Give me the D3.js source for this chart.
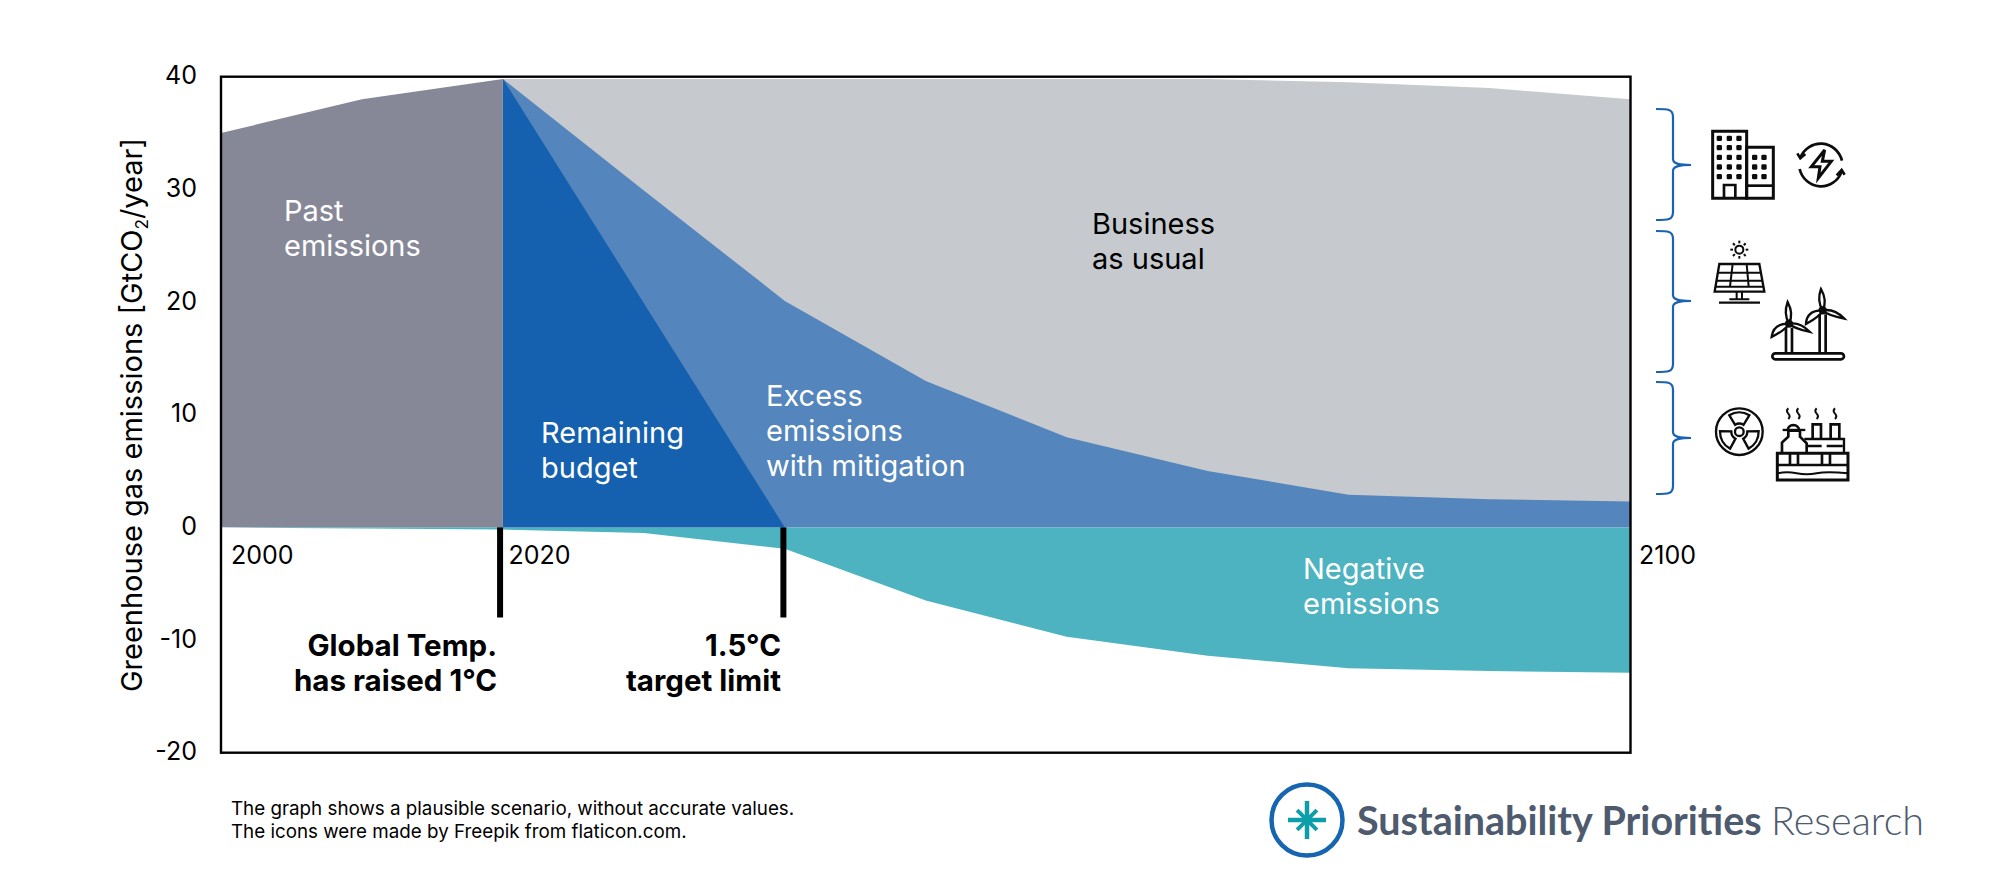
<!DOCTYPE html>
<html>
<head>
<meta charset="utf-8">
<script src="https://cdn.jsdelivr.net/npm/d3@7"></script>
<style>
    html, body { margin: 0; padding: 0; background: #fff; }
    svg { display: block; }
    text { font-family: Inter, sans-serif; }
</style>
</head>
<body>
<svg class="svg"></svg>
<script>
const yTicks = [40, 30, 20, 10, 0, -10, -20];
const xTicks = [2000, 2020, 2100];

const pastYears = [2000, 2010, 2020];
const pastValues = [35.0, 38.0, 39.8];

const budgetYears = [2020, 2030, 2040];
const budgetValues = [39.8, 19.9, 0];

const scenarioYears = [2020, 2030, 2040, 2050, 2060, 2070, 2080, 2090, 2100];
const businessValues = [39.8, 39.8, 39.8, 39.8, 39.8, 39.8, 39.5, 39.0, 38.0];
const excessValues = [39.8, 29.9, 20.1, 13.0, 8.0, 5.0, 2.9, 2.5, 2.3];

const negativeYears = [2000, 2010, 2020, 2030, 2040, 2050, 2060, 2070, 2080, 2090, 2100];
const negativeValues = [0, -0.1, -0.2, -0.5, -1.9, -6.5, -9.7, -11.4, -12.5, -12.75, -12.9];

const markerYears = [2019.8, 2039.9];

function drawChart () {
    const margin = {
        top: 76.7,
        right: 371.5,
        bottom: 141.3,
        left: 221
    };
    const width = 2002;
    const height = 894;

    const svg = d3.select('.svg')
        .attr('width', width)
        .attr('height', height)
        .attr('viewBox', `0 0 ${width} ${height}`);

    /* SCALES */
    const xScale = d3.scaleLinear()
        .domain([2000, 2100])
        .range([margin.left, width - margin.right]);
    const yScale = d3.scaleLinear()
        .domain([-20, 40])
        .range([height - margin.bottom, margin.top]);

    /* AREAS */
    function drawArea (years, values, fill) {
        const area = d3.area()
            .x((d, i) => xScale(years[i]))
            .y0(yScale(0))
            .y1(d => yScale(d));
        svg.append('path')
            .datum(values)
            .attr('d', area)
            .attr('fill', fill);
    }
    drawArea(negativeYears, negativeValues, '#4db3c0');
    drawArea(scenarioYears, businessValues, '#c6cacf');
    drawArea(scenarioYears, excessValues, '#5485bc');
    drawArea(budgetYears, budgetValues, '#1561af');
    drawArea(pastYears, pastValues, '#868898');

    /* FRAME */
    svg.append('rect')
        .attr('x', xScale(2000))
        .attr('y', yScale(40))
        .attr('width', xScale(2100) - xScale(2000))
        .attr('height', yScale(-20) - yScale(40))
        .attr('fill', 'none')
        .attr('stroke', '#000')
        .attr('stroke-width', 2.4);

    /* AXES */
    const yAxis = d3.axisLeft(yScale)
        .tickValues(yTicks)
        .tickSize(0)
        .tickPadding(24)
        .tickFormat(d => String(d));
    const yAxisG = svg.append('g')
        .attr('transform', `translate(${margin.left}, -1)`)
        .call(yAxis);
    yAxisG.select('.domain').remove();
    yAxisG.selectAll('text')
        .style('font-family', 'Inter, sans-serif')
        .style('font-size', '25px')
        .attr('fill', '#000');

    const xAxis = d3.axisBottom(xScale).tickValues(xTicks).tickSize(0).tickFormat(d3.format('d'));
    const xAxisG = svg.append('g')
        .attr('transform', `translate(0, ${yScale(0)})`)
        .call(xAxis);
    xAxisG.select('.domain').remove();
    xAxisG.selectAll('text')
        .style('font-family', 'Inter, sans-serif')
        .style('font-size', '25px')
        .attr('fill', '#000')
        .attr('text-anchor', 'start')
        .attr('y', 0)
        .attr('dy', 37)
        .attr('dx', d => d === 2000 ? 9.5 : (d === 2100 ? 8 : 5));

    /* 2020 AND 2040 MARKERS */
    svg.selectAll('.marker')
        .data(markerYears).enter()
        .append('line')
        .attr('class', 'marker')
        .attr('x1', d => xScale(d))
        .attr('x2', d => xScale(d))
        .attr('y1', yScale(0))
        .attr('y2', yScale(-8))
        .attr('stroke', '#000')
        .attr('stroke-width', 6);

    /* TEXT */
    function label (lines, x, y, fill, weight, anchor) {
        const t = svg.append('text')
            .attr('fill', fill)
            .attr('text-anchor', anchor || 'start')
            .style('font-size', weight ? '29.5px' : '29px')
            .style('font-weight', weight || 400);
        lines.forEach((line, i) => {
            t.append('tspan')
                .attr('x', x)
                .attr('y', y + i * 35)
                .text(line);
        });
    }
    label(['Past', 'emissions'], 284, 221, '#fff');
    label(['Remaining', 'budget'], 541, 443, '#fff');
    label(['Excess', 'emissions', 'with mitigation'], 766, 406, '#fff');
    label(['Business', 'as usual'], 1092, 234, '#000');
    label(['Negative', 'emissions'], 1303, 579, '#fff');
    label(['Global Temp.', 'has raised 1°C'], 497, 656, '#000', 700, 'end');
    label(['1.5°C', 'target limit'], 781, 656, '#000', 700, 'end');

    const yLabel = svg.append('text')
        .attr('transform', 'translate(142, 415) rotate(-90)')
        .attr('text-anchor', 'middle')
        .attr('fill', '#000')
        .style('font-size', '29px')
        .text('Greenhouse gas emissions [GtCO');
    yLabel.append('tspan').attr('dy', 6).style('font-size', '17px').text('2');
    yLabel.append('tspan').attr('dy', -6).text('/year]');

    svg.append('text')
        .attr('x', 231).attr('y', 815)
        .style('font-size', '18.8px')
        .text('The graph shows a plausible scenario, without accurate values.');
    svg.append('text')
        .attr('x', 231).attr('y', 838)
        .style('font-size', '18.8px')
        .text('The icons were made by Freepik from flaticon.com.');

    /* BRACKETS */
    const blue = '#1b63b0';
    [[109, 165, 220], [231, 301, 372], [382, 438, 494]].forEach(b => {
        const [y0, ym, y1] = b;
        svg.append('path')
            .attr('d', `M1656,${y0} C1668,${y0} 1673,${y0} 1673,${y0 + 8} L1673,${ym - 6} C1673,${ym - 1} 1680,${ym} 1691,${ym}
                C1680,${ym} 1673,${ym + 1} 1673,${ym + 6} L1673,${y1 - 8} C1673,${y1} 1668,${y1} 1656,${y1}`)
            .attr('fill', 'none')
            .attr('stroke', blue)
            .attr('stroke-width', 2.2);
    });

    /* ICONS */
    const icons = svg.append('g')
        .attr('transform', 'translate(1620, 90) scale(0.3333)')
        .attr('fill', 'none')
        .attr('stroke', '#0c0c0c')
        .attr('stroke-width', 8);
    const p = d => icons.append('path').attr('d', d);
    const box = (x0, y0, x1, y1) => p(`M${x0},${y0} H${x1} V${y1} H${x0} Z`);

    // building
    box(278, 124, 380, 325).attr('stroke-width', 9);
    box(380, 172, 460, 325).attr('stroke-width', 9);
    p('M380,287 H460').attr('stroke-width', 8);
    p('M312,325 V285 H346 V325').attr('stroke-width', 8);
    [298, 328, 357].forEach(x => [145, 173, 202, 231, 260].forEach(y => {
        icons.append('rect').attr('x', x - 8).attr('y', y - 8).attr('width', 16).attr('height', 16)
            .attr('rx', 4).attr('fill', '#0c0c0c').attr('stroke', 'none');
    }));
    [404, 432].forEach(x => [202, 231, 260].forEach(y => {
        icons.append('rect').attr('x', x - 8).attr('y', y - 8).attr('width', 16).attr('height', 16)
            .attr('rx', 4).attr('fill', '#0c0c0c').attr('stroke', 'none');
    }));

    // energy cycle
    p('M541,203 A66,68 0 0 1 666,212');
    p('M539,237 A66,68 0 0 0 665,245');
    p('M532,190 L541,205 L556,192');
    p('M650,256 L665,240 L674,254');
    p('M614,180 L574,230 L600,230 L595,264 L634,214 L607,214 Z').attr('stroke-width', 9);

    // solar panel
    icons.append('circle').attr('cx', 358).attr('cy', 479).attr('r', 12).attr('stroke-width', 6);
    d3.range(8).forEach(i => {
        const a = i * Math.PI / 4;
        p(`M${358 + 19 * Math.cos(a)},${479 + 19 * Math.sin(a)} L${358 + 27 * Math.cos(a)},${479 + 27 * Math.sin(a)}`).attr('stroke-width', 6);
    });
    p('M298,522 H418 L433,605 H284 Z').attr('stroke-width', 7);
    p('M294,548 H423 M290,572 H427 M286,590 H431 M338,522 L330,590 M380,522 L386,590').attr('stroke-width', 6);
    p('M350,605 V628 M366,605 V628 M328,628 H388').attr('stroke-width', 6);
    p('M297,638 H420').attr('stroke-width', 7);

    // wind turbines
    function turbine (hx, hy, tw, blades) {
        p(`M${hx - tw},${hy + 12} V790 M${hx + tw},${hy + 12} V790`);
        icons.append('circle').attr('cx', hx).attr('cy', hy).attr('r', 9).attr('stroke-width', 7);
        blades.forEach(b => {
            const [tx, ty, cx0, cy0, cx1, cy1] = b;
            p(`M${hx},${hy} Q${cx0},${cy0} ${tx},${ty} Q${cx1},${cy1} ${hx},${hy}`).attr('stroke-width', 7);
        });
    }
    turbine(507, 701, 9, [[503, 636, 490, 672, 522, 672], [455, 741, 460, 700, 500, 718], [570, 726, 540, 695, 520, 715]]);
    turbine(608, 661, 9, [[603, 597, 590, 632, 623, 632], [558, 702, 560, 660, 602, 678], [673, 686, 643, 655, 622, 676]]);
    icons.append('rect').attr('x', 457).attr('y', 790).attr('width', 215).attr('height', 18).attr('rx', 9);

    // nuclear
    const nuclear = icons.append('g').attr('transform', 'translate(358, 1025)');
    nuclear.append('circle').attr('r', 70).attr('stroke-width', 7);
    nuclear.append('circle').attr('r', 13).attr('stroke-width', 7);
    const sector = d3.arc().innerRadius(24).outerRadius(58);
    [0, 2 * Math.PI / 3, 4 * Math.PI / 3].forEach(a => {
        nuclear.append('path')
            .attr('d', sector({ startAngle: a - 0.55, endAngle: a + 0.55 }))
            .attr('stroke-width', 7);
    });

    // offshore refinery
    box(472, 1090, 684, 1170).attr('stroke-width', 9);
    p('M472,1125 H684 M510,1090 V1125 M534,1090 V1125 M606,1090 V1125 M630,1090 V1125').attr('stroke-width', 8);
    p('M472,1150 Q500,1144 530,1150 T590,1150 T684,1150').attr('stroke-width', 6);
    p('M486,1090 V1058 L505,1040 V1022 H540 V1040 L560,1060 V1090').attr('stroke-width', 8);
    p('M488,1020 H556').attr('stroke-width', 7);
    p('M503,1020 Q505,1006 520,1005 Q535,1006 538,1020').attr('stroke-width', 7);
    p('M578,1047 V1003 H603 V1047 M632,1047 V1003 H658 V1047').attr('stroke-width', 8);
    p('M553,1047 H672 V1090 M560,1068 H605 M620,1068 H668').attr('stroke-width', 7);
    [505, 535, 590, 645].forEach(x => {
        p(`M${x},955 Q${x - 8},963 ${x},971 Q${x + 8},979 ${x},987`).attr('stroke-width', 6);
    });

    /* LOGO */
    svg.append('ellipse')
        .attr('cx', 1307).attr('cy', 820)
        .attr('rx', 35.5).attr('ry', 35.5)
        .attr('fill', 'none')
        .attr('stroke', '#1565b0')
        .attr('stroke-width', 4.5);
    d3.range(4).forEach(i => {
        svg.append('line')
            .attr('transform', `translate(1307, 820) rotate(${i * 45})`)
            .attr('x1', 0).attr('x2', 0)
            .attr('y1', i % 2 ? -14 : -19).attr('y2', i % 2 ? 14 : 19)
            .attr('stroke', '#0e9ea9')
            .attr('stroke-width', i % 2 ? 4 : 4.5);
    });
    svg.append('text')
        .attr('x', 1357).attr('y', 835)
        .attr('fill', '#4e5a6e')
        .style('font-family', 'Lato, sans-serif')
        .style('font-size', '39.5px')
        .style('font-weight', 700)
        .text('Sustainability Priorities');
    svg.append('text')
        .attr('x', 1771).attr('y', 835)
        .attr('fill', '#4e5a6e')
        .style('font-family', 'Lato, sans-serif')
        .style('font-size', '39.5px')
        .style('font-weight', 300)
        .text('Research');
}

drawChart();
</script>
</body>
</html>
